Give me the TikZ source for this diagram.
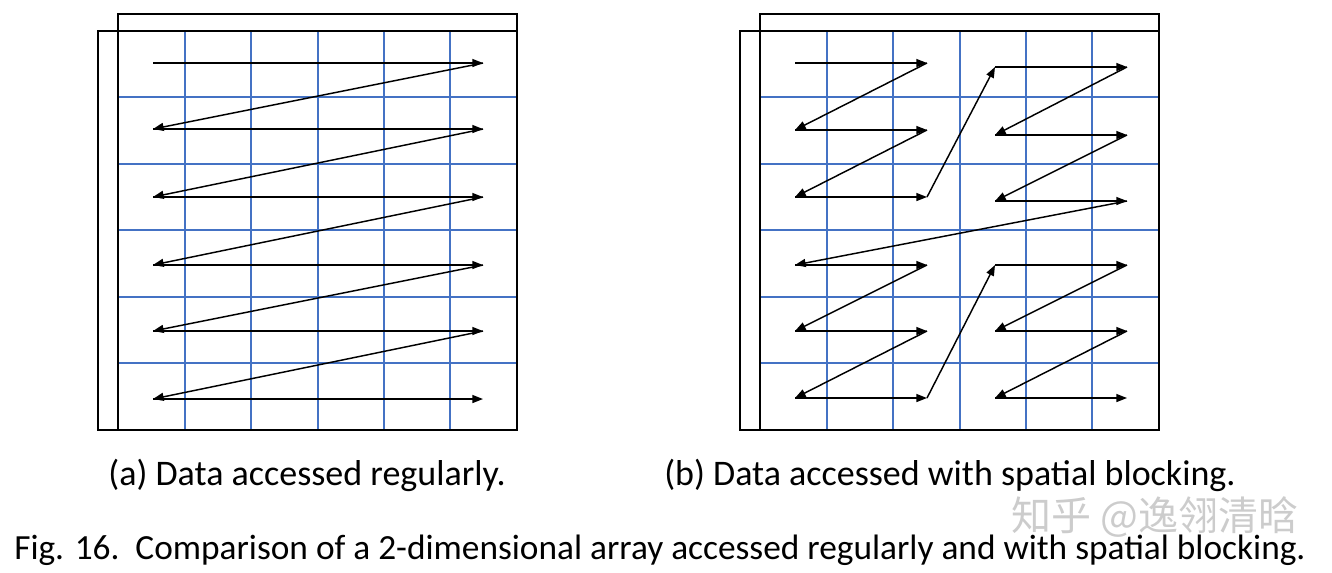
\documentclass[tikz,border=0pt]{standalone}
\usepackage{fontspec}
\setmainfont{Carlito}
\newfontfamily\cjk{Noto Sans CJK SC}
\usetikzlibrary{arrows.meta}
\definecolor{gridblue}{RGB}{68,114,196}
\begin{document}
\begin{tikzpicture}[x=0.75pt,y=-0.75pt,
  grid/.style={draw=gridblue,line width=0.8pt},
  frame/.style={draw=black,line width=1pt},
  arr/.style={-{Triangle[length=8pt,width=6pt]},line width=1.1pt},
  captext/.style={font=\fontsize{27}{30}\selectfont,inner sep=0pt}]
\useasboundingbox (0,0) rectangle (1332,572);
\foreach \o/\nm in {0/a,642/b}{
  \begin{scope}[xshift=\o*0.75pt]
  \foreach \gx in {185,251,318,384,450} \draw[grid] (\gx,31) -- (\gx,430);
  \foreach \gy in {97,164,230,297,363} \draw[grid] (118,\gy) -- (517,\gy);
  \draw[frame] (118,14) rectangle (517,31);
  \draw[frame] (98,31) rectangle (118,430);
  \draw[frame] (118,31) rectangle (517,430);
  \end{scope}
}
% panel a
\foreach \r/\y in {1/63,2/129,3/197,4/265,5/331,6/399}{
  \coordinate (aL\r) at (153,\y); \coordinate (aR\r) at (483,\y);
  \draw[arr] (aL\r) -- (aR\r);}
\foreach \r/\n in {1/2,2/3,3/4,4/5,5/6} \draw[arr] (aR\r) -- (aL\n);
% panel b
\foreach \k/\y in {1/63,2/130,3/197,4/265,5/331,6/398}{
  \coordinate (bL\k) at (795,\y); \coordinate (bM\k) at (927,\y);}
\foreach \k/\y in {1/67,2/135,3/201,4/265,5/331,6/398}{
  \coordinate (cL\k) at (995,\y); \coordinate (cR\k) at (1127,\y);}
\foreach \k in {1,...,6}{\draw[arr] (bL\k) -- (bM\k); \draw[arr] (cL\k) -- (cR\k);}
\foreach \a/\b in {1/2,2/3,4/5,5/6}{\draw[arr] (bM\a) -- (bL\b); \draw[arr] (cR\a) -- (cL\b);}
\draw[arr] (bM3) -- (cL1);
\draw[arr] (bM6) -- (cL4);
\draw[arr] (cR3) -- (bL4);
\node[captext] (capa) at (307,475) {(a) Data accessed regularly.};
\node[captext] (capb) at (950,475) {(b) Data accessed with spatial blocking.};
\node[font=\cjk\fontsize{30}{32}\selectfont,text=gray!40,inner sep=0pt] (wm) at (1155,517) {知乎 @逸翎清晗};
\node[captext,font=\fontsize{26.5}{30}\selectfont] (fig) at (660,550) {Fig. 16.\ \ Comparison of a 2-dimensional array accessed regularly and with spatial blocking.};
\end{tikzpicture}
\end{document}
